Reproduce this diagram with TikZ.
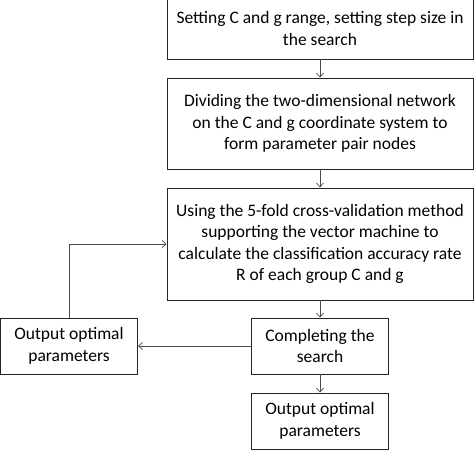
\documentclass[tikz,border=0pt]{standalone}
\usepackage{fontspec}
\setmainfont{Carlito}
\usetikzlibrary{arrows.meta}
\begin{document}
\begin{tikzpicture}[x=1pt,y=-1pt,
  box/.style={draw=black!85, line width=0.9pt, align=center, inner sep=0pt,
    font=\fontsize{17.5}{21.5}\selectfont},
  conn/.style={draw=black!70, line width=0.7pt, -{Straight Barb[length=4pt,width=7pt]}}]
\clip (0,0) rectangle (474,450);
\useasboundingbox (0,0) rectangle (474,450);
\node[box, minimum width=306pt, minimum height=61pt] (b1) at (320,28.5)
  {Setting C and g range, setting step size in\\the search};
\node[box, minimum width=306pt, minimum height=91pt] (b2) at (320,123.5)
  {Dividing the two-dimensional network\\on the C and g coordinate system to\\form parameter pair nodes};
\node[box, minimum width=306pt, minimum height=112pt] (b3) at (320,244)
  {Using the 5-fold cross-validation method\\supporting the vector machine to\\calculate the classification accuracy rate\\R of each group C and g};
\node[box, minimum width=137pt, minimum height=56pt] (b4) at (320,346)
  {Completing the\\search};
\node[box, minimum width=137pt, minimum height=56pt] (b5) at (320,421)
  {Output optimal\\parameters};
\node[box, minimum width=137pt, minimum height=56pt] (lb) at (69,346)
  {Output optimal\\parameters};
\draw[conn] (b1) -- (b2);
\draw[conn] (b2) -- (b3);
\draw[conn] (b3) -- (b4);
\draw[conn] (b4) -- (b5);
\draw[conn] (b4) -- (lb);
\draw[conn] (lb.north) |- (b3.west);
\end{tikzpicture}
\end{document}
